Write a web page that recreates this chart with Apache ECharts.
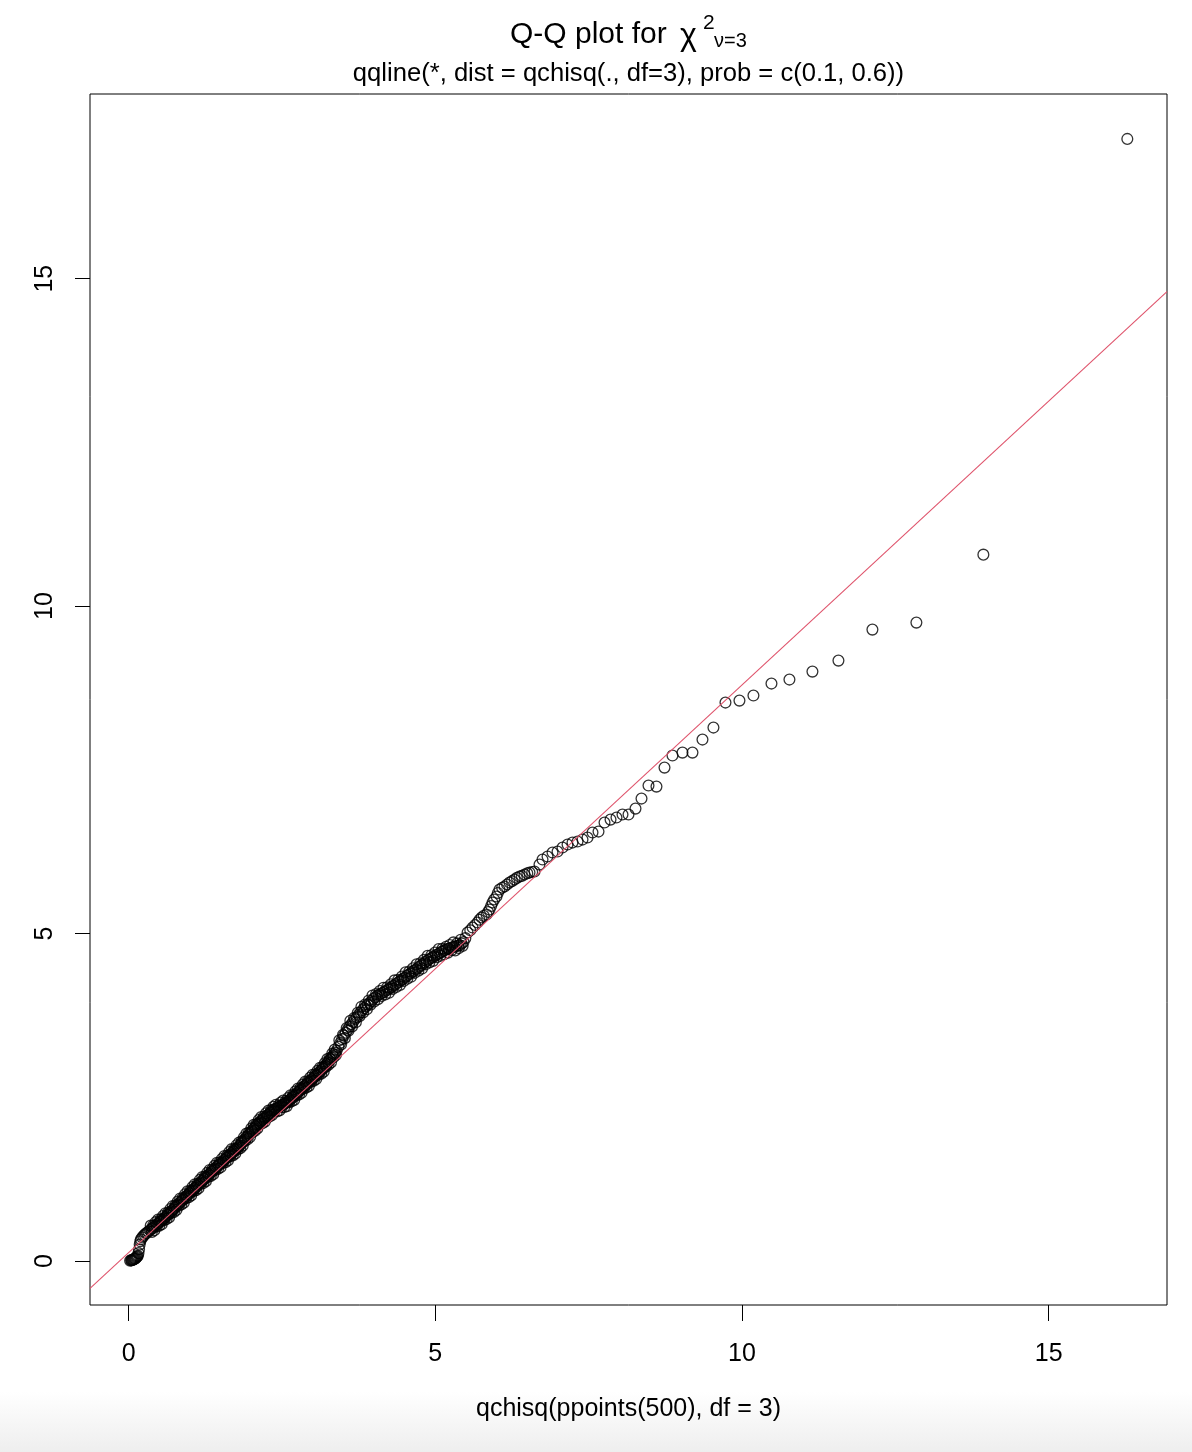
<!DOCTYPE html>
<html>
<head>
<meta charset="utf-8">
<script src="https://cdn.jsdelivr.net/npm/echarts@6/dist/echarts.min.js"></script>
<style>
html,body{margin:0;padding:0;}
body{width:1192px;height:1452px;background:linear-gradient(to bottom,#ffffff 0px,#ffffff 1392px,#eeeeee 1452px);}
#chart{width:1192px;height:1452px;}
</style>
</head>
<body>
<div id="chart"></div>
<script>
// ---- data ----
// axis limits (R adds 4% on each side of the data range)
const xMin = -0.63, xMax = 16.93;
const yMin = -0.672, yMax = 17.82;
const xTicks = [0, 5, 10, 15];
const yTicks = [0, 5, 10, 15];

// lowest sample points (x = theoretical quantile, y = sample quantile)
const headX = [0.024,0.04,0.05,0.06,0.07,0.08,0.09,0.10,0.11,0.12,0.13,0.14,0.15,0.16,0.17,0.18,0.19,0.20,0.22,0.24,0.26,0.28,0.30,0.32];
const headY = [0.005,0.01,0.012,0.015,0.02,0.025,0.03,0.035,0.04,0.05,0.06,0.07,0.08,0.12,0.18,0.25,0.30,0.33,0.36,0.38,0.40,0.42,0.43,0.45];

// dense band, lower part (centre of the band)
const bandX = [0.35,0.37,0.39,0.41,0.43,0.45,0.47,0.49,0.51,0.53,0.55,0.57,0.59,0.61,0.63,0.65,0.67,0.69,0.71,0.73,0.75,0.77,0.79,0.81,0.83,0.85,0.87,0.89,0.91,0.93,0.95,0.97,0.99,1.01,1.03,1.05,1.07,1.09,1.11,1.13,1.15,1.17,1.19,1.21,1.23,1.25,1.27,1.29,1.31,1.33,1.35,1.37,1.39,1.41,1.43,1.45,1.47,1.49,1.51,1.53,1.55,1.57,1.59,1.61,1.63,1.65,1.67,1.69,1.71,1.73,1.75,1.77,1.79,1.81,1.83,1.85,1.87,1.89,1.91,1.93,1.95,1.97,1.99,2.01,2.03,2.05,2.07,2.09,2.11,2.13,2.15,2.17,2.19,2.21,2.23,2.25,2.27,2.29,2.31,2.33,2.35,2.37,2.39,2.41,2.43,2.45,2.47,2.49,2.51,2.53,2.55,2.57,2.59,2.61,2.63,2.65,2.67,2.69,2.71,2.73,2.75,2.77,2.79,2.81,2.83,2.85,2.87,2.89,2.91,2.93,2.95,2.97,2.99,3.01,3.03,3.05,3.07,3.09,3.11,3.13,3.15,3.17,3.19,3.21,3.23,3.25,3.27,3.29,3.31,3.33,3.35,3.37,3.39];
const bandY = [0.47,0.49,0.50,0.52,0.535,0.55,0.565,0.58,0.60,0.61,0.63,0.645,0.66,0.68,0.70,0.715,0.735,0.755,0.77,0.79,0.81,0.83,0.85,0.865,0.885,0.905,0.92,0.94,0.96,0.98,0.995,1.015,1.03,1.05,1.07,1.085,1.105,1.12,1.14,1.16,1.18,1.195,1.215,1.23,1.25,1.27,1.285,1.305,1.32,1.34,1.36,1.375,1.395,1.41,1.43,1.45,1.465,1.48,1.50,1.515,1.535,1.55,1.57,1.585,1.605,1.62,1.64,1.655,1.67,1.69,1.71,1.725,1.74,1.76,1.785,1.81,1.83,1.85,1.875,1.895,1.92,1.94,1.965,1.985,2.01,2.03,2.05,2.075,2.095,2.11,2.13,2.145,2.165,2.18,2.195,2.215,2.23,2.245,2.265,2.28,2.30,2.31,2.32,2.33,2.34,2.35,2.365,2.375,2.385,2.395,2.405,2.42,2.43,2.445,2.46,2.48,2.495,2.51,2.53,2.55,2.565,2.585,2.60,2.62,2.635,2.655,2.67,2.69,2.705,2.725,2.74,2.76,2.775,2.795,2.81,2.83,2.845,2.865,2.88,2.90,2.92,2.94,2.96,2.985,3.01,3.035,3.06,3.08,3.105,3.13,3.155,3.18,3.21];

// dense band, lower part (points scattered above / below the centre)
const band2X = [0.36,0.38,0.40,0.42,0.44,0.46,0.48,0.50,0.52,0.54,0.56,0.58,0.60,0.62,0.64,0.66,0.68,0.70,0.72,0.74,0.76,0.78,0.80,0.82,0.84,0.86,0.88,0.90,0.92,0.94,0.96,0.98,1.00,1.02,1.04,1.06,1.08,1.10,1.12,1.14,1.16,1.18,1.20,1.22,1.24,1.26,1.28,1.30,1.32,1.34,1.36,1.38,1.40,1.42,1.44,1.46,1.48,1.50,1.52,1.54,1.56,1.58,1.60,1.62,1.64,1.66,1.68,1.70,1.72,1.74,1.76,1.78,1.80,1.82,1.84,1.86,1.88,1.90,1.92,1.94,1.96,1.98,2.00,2.02,2.04,2.06,2.08,2.10,2.12,2.14,2.16,2.18,2.20,2.22,2.24,2.26,2.28,2.30,2.32,2.34,2.36,2.38,2.40,2.42,2.44,2.46,2.48,2.50,2.52,2.54,2.56,2.58,2.60,2.62,2.64,2.66,2.68,2.70,2.72,2.74,2.76,2.78,2.80,2.82,2.84,2.86,2.88,2.90,2.92,2.94,2.96,2.98,3.00,3.02,3.04,3.06,3.08,3.10,3.12,3.14,3.16,3.18,3.20,3.22,3.24,3.26,3.28,3.30,3.32,3.34,3.36,3.38];
const band2Y = [0.54,0.445,0.54,0.468,0.593,0.528,0.633,0.54,0.635,0.56,0.688,0.623,0.73,0.64,0.738,0.665,0.795,0.733,0.84,0.75,0.85,0.78,0.908,0.845,0.955,0.863,0.96,0.89,1.02,0.958,1.065,0.973,1.07,1.00,1.128,1.065,1.173,1.08,1.18,1.11,1.238,1.175,1.283,1.19,1.29,1.218,1.345,1.283,1.39,1.30,1.398,1.325,1.453,1.39,1.50,1.408,1.503,1.43,1.558,1.495,1.603,1.51,1.608,1.535,1.663,1.60,1.708,1.613,1.71,1.64,1.768,1.703,1.81,1.723,1.828,1.76,1.89,1.833,1.945,1.858,1.96,1.893,2.025,1.968,2.08,1.99,2.093,2.025,2.153,2.09,2.198,2.105,2.203,2.128,2.255,2.193,2.298,2.205,2.303,2.23,2.355,2.285,2.385,2.285,2.375,2.298,2.42,2.35,2.45,2.35,2.443,2.365,2.488,2.423,2.53,2.438,2.533,2.46,2.59,2.528,2.635,2.543,2.64,2.568,2.695,2.633,2.74,2.648,2.745,2.673,2.80,2.738,2.845,2.753,2.85,2.778,2.905,2.843,2.95,2.86,2.96,2.89,3.023,2.968,3.083,2.998,3.10,3.033,3.168,3.113,3.228,3.145];

// dense band, upper part
const midX = [3.42,3.45,3.48,3.51,3.54,3.57,3.60,3.63,3.66,3.69,3.72,3.75,3.78,3.81,3.84,3.87,3.90,3.93,3.96,3.99,4.02,4.05,4.08,4.11,4.14,4.17,4.20,4.23,4.26,4.29,4.32,4.35,4.38,4.41,4.44,4.47,4.50,4.53,4.56,4.59,4.62,4.65,4.68,4.71,4.74,4.77,4.80,4.83,4.86,4.89,4.92,4.95,4.98,5.01,5.04,5.07,5.10,5.13,5.16,5.19,5.22,5.25,5.28,5.31,5.34,5.37,5.40,5.43,5.46];
const midY = [3.27,3.33,3.385,3.44,3.485,3.53,3.58,3.615,3.65,3.69,3.72,3.76,3.795,3.83,3.86,3.89,3.915,3.94,3.97,4.00,4.025,4.05,4.065,4.08,4.095,4.11,4.13,4.145,4.165,4.185,4.205,4.225,4.245,4.265,4.285,4.305,4.325,4.35,4.37,4.39,4.41,4.43,4.45,4.47,4.495,4.515,4.535,4.56,4.58,4.60,4.62,4.635,4.65,4.67,4.685,4.70,4.72,4.735,4.75,4.765,4.77,4.78,4.79,4.80,4.805,4.815,4.82,4.85,4.87];
const mid2X = [3.435,3.465,3.495,3.525,3.555,3.585,3.615,3.645,3.675,3.705,3.735,3.765,3.795,3.825,3.855,3.885,3.915,3.945,3.975,4.005,4.035,4.065,4.095,4.125,4.155,4.185,4.215,4.245,4.275,4.305,4.335,4.365,4.395,4.425,4.455,4.485,4.515,4.545,4.575,4.605,4.635,4.665,4.695,4.725,4.755,4.785,4.815,4.845,4.875,4.905,4.935,4.965,4.995,5.025,5.055,5.085,5.115,5.145,5.175,5.205,5.235,5.265,5.295,5.325,5.355,5.385,5.415,5.445];
const mid2Y = [3.37,3.308,3.453,3.403,3.558,3.515,3.668,3.583,3.71,3.645,3.79,3.738,3.883,3.795,3.915,3.843,3.978,3.915,4.055,3.963,4.078,3.998,4.123,4.048,4.173,4.07,4.178,4.095,4.225,4.155,4.285,4.185,4.295,4.215,4.345,4.275,4.408,4.31,4.42,4.34,4.47,4.40,4.53,4.433,4.545,4.465,4.598,4.53,4.66,4.56,4.668,4.583,4.71,4.638,4.763,4.66,4.768,4.683,4.798,4.708,4.825,4.745,4.865,4.743,4.85,4.778,4.905,4.81];

// upper tail, individually visible circles
const tailX = [5.526,5.607,5.689,5.754,5.835,5.884,5.933,5.998,6.047,6.129,6.210,6.292,6.373,6.455,6.536,6.618,6.699,6.748,6.830,6.911,6.993,7.074,7.156,7.237,7.319,7.400,7.482,7.563,7.661,7.759,7.857,7.954,8.052,8.150,8.264,8.362,8.476,8.606,8.737,8.867,9.030,9.193,9.356,9.535,9.731,9.959,10.187,10.481,10.774,11.149,11.573,12.127,12.844,13.936,16.283];
const tailY = [5.015,5.092,5.168,5.244,5.290,5.366,5.473,5.565,5.672,5.718,5.779,5.824,5.870,5.901,5.931,5.947,6.053,6.130,6.176,6.237,6.252,6.313,6.359,6.389,6.405,6.435,6.466,6.542,6.557,6.695,6.740,6.771,6.817,6.817,6.908,7.061,7.260,7.244,7.534,7.718,7.763,7.763,7.962,8.145,8.527,8.557,8.634,8.817,8.878,9.000,9.168,9.641,9.748,10.786,17.134];
// extra overlapping circles where the tail leaves the band
const tail2X = [5.49,5.57,5.65,5.72,5.79,5.86,5.91,5.96,6.02,6.09,6.17,6.25,6.33,6.41,6.50,6.58];
const tail2Y = [4.93,5.05,5.13,5.21,5.27,5.33,5.42,5.52,5.62,5.70,5.75,5.80,5.85,5.88,5.92,5.94];

// qqline reference points: quantiles at prob 0.1 and 0.6
const lineX = [0.584, 2.946];
const lineY = [0.635, 2.682];

// ---- build chart ----
const FONT = "'Liberation Sans', Arial, Helvetica, sans-serif";
function pairs(xs, ys){ const n = Math.min(xs.length, ys.length); const out=[]; for(let i=0;i<n;i++) out.push([xs[i], ys[i]]); return out; }
const points = [].concat(pairs(headX,headY), pairs(bandX,bandY), pairs(band2X,band2Y), pairs(midX,midY), pairs(mid2X,mid2Y), pairs(tail2X,tail2Y), pairs(tailX,tailY));
const slope = (lineY[1]-lineY[0])/(lineX[1]-lineX[0]);
const icpt = lineY[0] - slope*lineX[0];
const qqLine = [[xMin, icpt + slope*xMin], [xMax, icpt + slope*xMax]];

const chart = echarts.init(document.getElementById('chart'), null, {renderer:'canvas'});
chart.setOption({
  animation: false,
  backgroundColor: 'transparent',
  grid: {left: 90, right: 25, top: 94, bottom: 147, show: true, borderColor: '#000', borderWidth: 1, backgroundColor: 'transparent'},
  xAxis: {
    type: 'value', min: xMin, max: xMax,
    axisLine: {show: false, onZero: false},
    axisTick: {show: true, length: 16, lineStyle: {color: '#000', width: 1}, customValues: xTicks},
    axisLabel: {customValues: xTicks, fontSize: 25, color: '#000', margin: 37, fontFamily: FONT},
    splitLine: {show: false},
    name: 'qchisq(ppoints(500), df = 3)', nameLocation: 'middle', nameGap: 92,
    nameTextStyle: {fontSize: 25, color: '#000', fontFamily: FONT}
  },
  yAxis: {
    type: 'value', min: yMin, max: yMax,
    axisLine: {show: false, onZero: false},
    axisTick: {show: true, length: 15, lineStyle: {color: '#000', width: 1}, customValues: yTicks},
    axisLabel: {customValues: yTicks, fontSize: 25, color: '#000', margin: 45, rotate: 90, align: 'center', verticalAlign: 'middle', fontFamily: FONT},
    splitLine: {show: false}
  },
  graphic: [
    {type: 'text', x: 510, y: 35.2, style: {text: 'Q-Q plot for', font: '30px ' + FONT, fill: '#000', align: 'left', verticalAlign: 'middle'}},
    {type: 'text', x: 680, y: 36, style: {text: 'χ', font: '32px ' + FONT, fill: '#000', align: 'left', verticalAlign: 'middle'}},
    {type: 'text', x: 703, y: 23.5, style: {text: '2', font: '21px ' + FONT, fill: '#000', align: 'left', verticalAlign: 'middle'}},
    {type: 'text', x: 714, y: 41.5, style: {text: 'ν=3', font: '20px ' + FONT, fill: '#000', align: 'left', verticalAlign: 'middle'}},
    {type: 'text', x: 628.5, y: 73.5, style: {text: 'qqline(*, dist = qchisq(., df=3), prob = c(0.1, 0.6))', font: '25.6px ' + FONT, fill: '#000', align: 'center', verticalAlign: 'middle'}}
  ],
  series: [
    {
      type: 'scatter', data: points, symbol: 'circle', symbolSize: 10.8,
      itemStyle: {color: 'rgba(0,0,0,0)', borderColor: '#000', borderWidth: 1.3},
      emphasis: {disabled: true}, silent: true, large: false, progressive: 0, z: 2
    },
    {
      type: 'line', data: qqLine, showSymbol: false, symbol: 'none',
      lineStyle: {color: '#DF536B', width: 1.1}, clip: true, silent: true, z: 3
    }
  ]
});
</script>
</body>
</html>
